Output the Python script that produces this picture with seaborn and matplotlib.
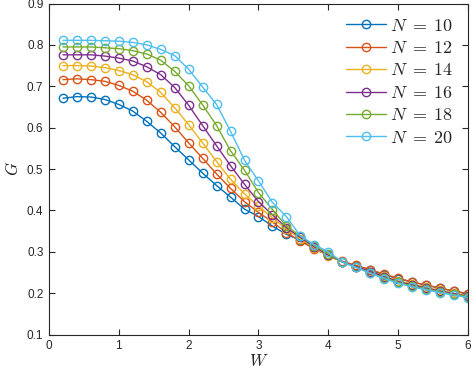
import numpy as np
import pandas as pd
import matplotlib
matplotlib.use("Agg")
import matplotlib.pyplot as plt
import seaborn as sns

W = np.round(np.arange(1, 31) * 0.2, 1)
sizes = [10, 12, 14, 16, 18, 20]

g10 = [0.671, 0.675, 0.674, 0.668, 0.656, 0.640, 0.615, 0.587, 0.554, 0.522,
       0.490, 0.460, 0.432, 0.403, 0.385, 0.362, 0.342, 0.328, 0.308, 0.291,
       0.276, 0.265, 0.255, 0.244, 0.235, 0.227, 0.219, 0.212, 0.205, 0.198]
g12 = [0.716, 0.718, 0.716, 0.712, 0.702, 0.688, 0.666, 0.637, 0.602, 0.563,
       0.526, 0.488, 0.453, 0.421, 0.395, 0.372, 0.346, 0.326, 0.307, 0.291,
       0.277, 0.267, 0.257, 0.246, 0.236, 0.227, 0.220, 0.212, 0.205, 0.199]
g14 = [0.750, 0.750, 0.749, 0.745, 0.738, 0.728, 0.711, 0.685, 0.648, 0.607,
       0.563, 0.518, 0.475, 0.440, 0.410, 0.382, 0.354, 0.332, 0.310, 0.289,
       0.276, 0.264, 0.252, 0.241, 0.230, 0.222, 0.214, 0.207, 0.200, 0.194]
g16 = [0.776, 0.776, 0.776, 0.773, 0.768, 0.761, 0.747, 0.728, 0.697, 0.654,
       0.605, 0.556, 0.508, 0.463, 0.421, 0.389, 0.358, 0.335, 0.312, 0.292,
       0.276, 0.264, 0.252, 0.240, 0.228, 0.220, 0.212, 0.205, 0.199, 0.192]
g18 = [0.795, 0.795, 0.795, 0.793, 0.791, 0.786, 0.778, 0.763, 0.736, 0.701,
       0.655, 0.605, 0.544, 0.497, 0.443, 0.402, 0.362, 0.338, 0.315, 0.295,
       0.275, 0.262, 0.249, 0.237, 0.226, 0.217, 0.210, 0.203, 0.197, 0.191]
g20 = [0.811, 0.811, 0.811, 0.810, 0.809, 0.806, 0.800, 0.789, 0.774, 0.741,
       0.698, 0.656, 0.591, 0.521, 0.471, 0.419, 0.385, 0.338, 0.317, 0.300,
       0.275, 0.262, 0.248, 0.235, 0.224, 0.215, 0.208, 0.201, 0.195, 0.189]

series = [g10, g12, g14, g16, g18, g20]
colors = ["#0072BD", "#D95319", "#EDB120", "#7E2F8E", "#77AC30", "#4DBEEE"]

sns.set_style("ticks")
plt.rcParams["font.family"] = ["Liberation Sans", "DejaVu Sans"]
plt.rcParams["mathtext.fontset"] = "cm"

fig = plt.figure(figsize=(4.74, 3.74), dpi=100)
ax = fig.add_axes([0.1034, 0.1056, 0.8839, 0.885])

for n, g, c in zip(sizes, series, colors):
    sns.lineplot(x=W, y=g, ax=ax, color=c, marker="o", markersize=6,
                 markerfacecolor="none", markeredgecolor=c, markeredgewidth=1.0,
                 linewidth=1.0, label=rf"$N\;=\;{n}$")

ax.set_xlim(0, 6)
ax.set_ylim(0.1, 0.9)
ax.set_xticks(range(0, 7))
ax.set_yticks(np.round(np.arange(0.1, 0.91, 0.1), 1))
ax.set_yticklabels([f"{v:.1f}" for v in np.arange(0.1, 0.91, 0.1)])
ax.tick_params(direction="in", top=True, right=True, length=4, width=0.8,
               labelsize=8.5, colors="#262626", pad=4)
for s in ax.spines.values():
    s.set_color("#262626")
    s.set_linewidth(0.8)

ax.set_xlabel(r"$W$", fontsize=12, labelpad=1)
ax.set_ylabel(r"$G$", fontsize=12, labelpad=4)

ax.legend(loc="upper right", bbox_to_anchor=(0.99, 0.99), frameon=False,
          fontsize=13, handlelength=2.2, handletextpad=0.2, labelspacing=0.3,
          borderaxespad=0.2)

fig.savefig("out.png", dpi=100)
